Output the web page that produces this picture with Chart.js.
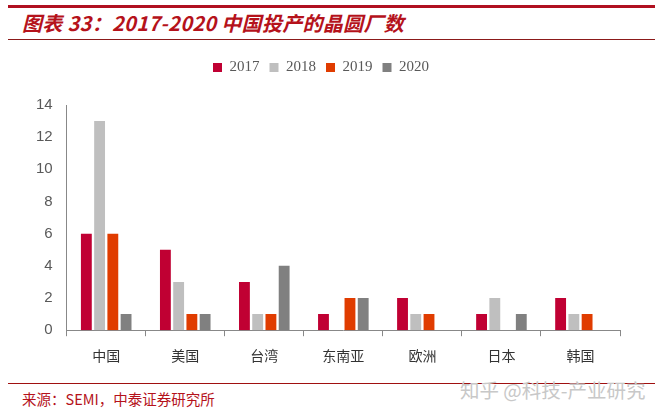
<!DOCTYPE html>
<html lang="zh">
  <head>
    <meta charset="UTF-8" />
    <title>2017-2020 中国投产的晶圆厂数</title>
    <script src="https://cdn.jsdelivr.net/npm/chart.js"></script>
    <style>
      body { margin: 0; width: 663px; height: 418px; background: #fff; position: relative; overflow: hidden; font-family: "Noto Sans CJK SC", "Liberation Sans", sans-serif; }
      .topline { position: absolute; left: 8px; right: 8px; top: 5px; height: 3px; background: #b01020; }
      .title { position: absolute; left: 22px; top: 8px; font-size: 20px; font-weight: bold; font-style: italic; color: #b5121b; letter-spacing: 0.3px; }
      .subline { position: absolute; left: 8px; right: 8px; top: 39px; height: 1px; background: #8b1a1a; }
      .footline { position: absolute; left: 8px; right: 8px; top: 383px; height: 1px; background: #a01010; }
      .source { position: absolute; left: 22px; top: 388px; font-size: 14.5px; color: #b5121b; }
      .mark { position: absolute; left: 460px; top: 375px; font-size: 19.5px; color: #c8c8c8; }
      #wrap { position: absolute; left: 0; top: 50px; width: 663px; height: 325px; }
    </style>
  </head>
  <body>
    <div class="topline"></div>
    <div class="title">图表 33：2017-2020 中国投产的晶圆厂数</div>
    <div class="subline"></div>
    <div id="wrap"><canvas id="chart"></canvas></div>
    <div class="footline"></div>
    <div class="source">来源：SEMI，中泰证券研究所</div>
    <div class="mark">知乎 @科技-产业研究</div>

    <script>
      const regions = ["中国", "美国", "台湾", "东南亚", "欧洲", "日本", "韩国"];
      const years = ["2017", "2018", "2019", "2020"];
      const fabs2017 = [6, 5, 3, 1, 2, 1, 2];
      const fabs2018 = [13, 3, 1, 0, 1, 2, 1];
      const fabs2019 = [6, 1, 1, 2, 1, 0, 1];
      const fabs2020 = [1, 1, 4, 2, 0, 1, 0];
      const colors = ["#c00033", "#bfbfbf", "#e03c00", "#808080"];

      const series = [fabs2017, fabs2018, fabs2019, fabs2020];

      // extra room between legend and plot
      const legendMargin = {
        id: "legendMargin",
        beforeInit(chart) {
          const fit = chart.legend.fit;
          chart.legend.fit = function () {
            fit.bind(chart.legend)();
            this.height += 20;
          };
        },
      };

      new Chart(document.getElementById("chart"), {
        type: "bar",
        data: {
          labels: regions,
          datasets: series.map((d, i) => ({
            label: years[i],
            data: d,
            backgroundColor: colors[i],
            barPercentage: 0.82,
            categoryPercentage: 0.67,
          })),
        },
        plugins: [legendMargin],
        options: {
          responsive: true,
          maintainAspectRatio: false,
          animation: false,
          layout: { padding: { left: 22, right: 43, top: 0, bottom: 0 } },
          plugins: {
            legend: {
              position: "top",
              labels: {
                boxWidth: 9,
                boxHeight: 9,
                padding: 10,
                color: "#595959",
                font: { family: "Liberation Serif, serif", size: 15 },
              },
            },
            tooltip: { enabled: false },
          },
          scales: {
            x: {
              grid: { offset: true, drawOnChartArea: false, tickLength: 6, color: "#888" },
              border: { color: "#888" },
              ticks: { color: "#333", font: { family: "Noto Sans CJK SC", size: 14 }, padding: 11 },
            },
            y: {
              min: 0,
              max: 14,
              ticks: { stepSize: 2, color: "#595959", font: { family: "Liberation Sans", size: 15 }, padding: 14 },
              grid: { display: false, drawTicks: false },
              border: { color: "#888" },
            },
          },
        },
      });
    </script>
  </body>
</html>
